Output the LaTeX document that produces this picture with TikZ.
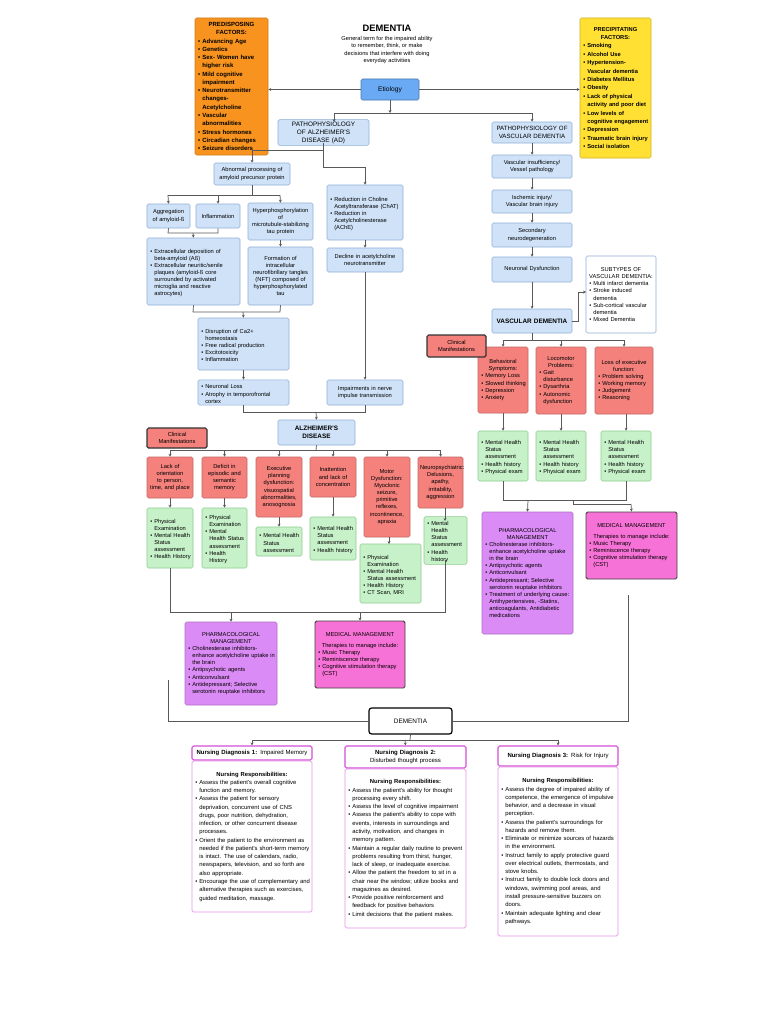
\documentclass[tikz,border=0pt]{standalone}
\usepackage{fontspec}
\setmainfont{Liberation Sans}
\usepackage{enumitem}
\usetikzlibrary{arrows.meta}
\hyphenpenalty=10000 \exhyphenpenalty=10000
\definecolor{cor}{HTML}{F7931E}
\definecolor{cyl}{HTML}{FFE033}
\definecolor{cbl}{HTML}{CFE2F8}
\definecolor{cbb}{HTML}{8FAFD6}
\definecolor{crd}{HTML}{F4817C}
\definecolor{cgr}{HTML}{C7F2C9}
\definecolor{cgb}{HTML}{8CCB8E}
\definecolor{cpu}{HTML}{DB8BF5}
\definecolor{cpk}{HTML}{F772D6}
\definecolor{cnb}{HTML}{D64FD6}
\definecolor{cet}{HTML}{6AAAF5}
\newcommand\its[1]{\begin{itemize}[leftmargin=4pt,label=•,nosep,labelsep=1.5pt]#1\end{itemize}}
\newcommand\hd[1]{{\centering #1\par}}
\newcommand\bx[7]{\pgfmathsetmacro\bw{(#4-#2)*0.75}\pgfmathsetmacro\bh{(#5-#3)*0.75}\pgfmathsetmacro\tw{\bw-3}%
\node[#6, minimum width=\bw pt, minimum height=\bh pt, text width=\tw pt] (#1) at ({(#2+#4)/2},{(#3+#5)/2}) {#7};}
\tikzset{
 base/.style={draw, rounded corners=1.2pt, inner sep=1.5pt, align=center, font=\fontsize{4.3}{5.3}\selectfont},
 blu/.style={base, fill=cbl, draw=cbb},
 red/.style={base, fill=crd, draw=crd!80!black},
 grn/.style={base, fill=cgr, draw=cgb, align=left},
 ln/.style={draw=black!65, line width=0.55pt},
 ar/.style={ln, -{Stealth[length=2.2pt,width=2.2pt]}},
}
\begin{document}
\hyphenpenalty=10000 \exhyphenpenalty=10000
\begin{tikzpicture}[x=0.75pt,y=-0.75pt]
\useasboundingbox[fill=white] (0,0) rectangle (768,1024);
% top
\bx{pre}{195}{18}{268}{155}{base, fill=cor, draw=cor!85!black, align=left, font=\fontsize{4.5}{6.2}\selectfont\bfseries}{\hd{PREDISPOSING\\FACTORS:}\its{\item Advancing Age \item Genetics \item Sex- Women have higher risk \item Mild cognitive impairment \item Neurotransmitter changes- Acetylcholine \item Vascular abnormalities \item Stress hormones \item Circadian changes \item Seizure disorders}}
\bx{prc}{580}{18}{651}{158}{base, fill=cyl, draw=cyl!80!black, align=left, font=\fontsize{4.3}{6.3}\selectfont\bfseries}{\hd{PRECIPITATING\\FACTORS:}\its{\item Smoking \item Alcohol Use \item Hypertension- Vascular dementia \item Diabetes Mellitus \item Obesity \item Lack of physical activity and poor diet \item Low levels of cognitive engagement \item Depression \item Traumatic brain injury \item Social isolation}}
\node[font=\fontsize{7}{8}\selectfont\bfseries] (ttl) at (387,28) {DEMENTIA};
\node[font=\fontsize{4.3}{5.6}\selectfont, align=center] (sub) at (387,50) {General term for the impaired ability\\to remember, think, or make\\decisions that interfere with doing\\everyday activities};
\bx{eti}{361}{79}{419}{100}{base, fill=cet, draw=cet!70!black, font=\fontsize{5}{6}\selectfont}{Etiology}
\draw[ar] (eti.west) -- (eti.west -| pre.east);
\draw[ar] (eti.east) -- (eti.east -| prc.west);
% AD pathophysiology
\bx{adp}{278}{122}{369}{143}{blu, font=\fontsize{4.8}{6}\selectfont}{PATHOPHYSIOLOGY OF ALZHEIMER'S DISEASE (AD)}
\bx{vdp}{492}{122}{572}{143}{blu, font=\fontsize{4.6}{6}\selectfont}{PATHOPHYSIOLOGY OF VASCULAR DEMENTIA}
\coordinate (e1) at (390,113);
\draw[ar] (eti.south -| e1) -- (e1);
\draw[ln] (e1) -- (334,113);
\draw[ar] (334,113) -- (334,122);
\draw[ln] (e1) -- (532,113);
\draw[ar] (532,113) -- (vdp.north);
\bx{abn}{214}{163}{290}{185}{blu}{Abnormal processing of amyloid precursor protein}
\bx{rch}{327}{185}{403}{240}{blu, align=left}{\its{\item Reduction in Choline Acetyltransferase (ChAT) \item Reduction in Acetylcholinesterase (AChE)}}
\draw[ln] (323,143) -- (323,150) -- (252,150); \draw[ar] (252,150) -- (abn.north);
\draw[ln] (323,150) -- (323,167) -- (365,167); \draw[ar] (365,167) -- (rch.north);
\bx{agg}{147}{204}{190}{228}{blu}{Aggregation of amyloid-ß}
\bx{inf}{196}{204}{240}{228}{blu}{Inflammation}
\bx{hyp}{248}{203}{313}{240}{blu}{Hyperphosphorylation of microtubule-stabilizing tau protein}
\draw[ln] (abn.south) -- (252,195); \draw[ln] (168,195) -- (280,195);
\draw[ar] (168,195) -- (agg.north); \draw[ar] (218,195) -- (inf.north); \draw[ar] (280,195) -- (hyp.north);
\bx{ext}{147}{238}{240}{305}{blu, align=left}{\its{\item Extracellular deposition of beta-amyloid (Aß) \item Extracellular neuritic/senile plaques (amyloid-ß core surrounded by activated microglia and reactive astrocytes)}}
\bx{frm}{248}{247}{313}{305}{blu}{Formation of intracellular neurofibrillary tangles (NFT) composed of hyperphosphorylated tau}
\draw[ln] (agg.south) -- (168,233) -- (218,233) -- (inf.south); \draw[ar] (193,233) -- (ext.north);
\draw[ar] (hyp.south) -- (frm.north);
\bx{dis}{198}{318}{289}{370}{blu, align=left}{\its{\item Disruption of Ca2+ homeostasis \item Free radical production \item Excitotoxicity \item Inflammation}}
\draw[ln] (ext.south) -- (193,312) -- (280,312) -- (frm.south); \draw[ar] (243,312) -- (dis.north);
\bx{nl}{198}{380}{289}{405}{blu, align=left}{\its{\item Neuronal Loss \item Atrophy in temporofrontal cortex}}
\bx{dec}{327}{248}{403}{272}{blu}{Decline in acetylcholine neurotransmitter}
\bx{imp}{327}{380}{403}{405}{blu}{Impairments in nerve impulse transmission}
\draw[ar] (dis.south) -- (nl.north);
\draw[ar] (rch.south) -- (dec.north);
\draw[ar] (dec.south) -- (imp.north);
\bx{ad}{278}{420}{355}{445}{blu, font=\fontsize{4.8}{6}\selectfont\bfseries}{ALZHEIMER'S DISEASE}
\draw[ln] (243,405) -- (243,412) -- (365,412) -- (imp.south); \draw[ar] (316,412) -- (ad.north);
\bx{cma}{147}{428}{207}{448}{base, fill=crd, draw=black!80, line width=0.9pt}{Clinical Manifestations}
% AD manifestations
\bx{r1}{147}{457}{193}{498}{red}{Lack of orientation to person, time, and place}
\bx{r2}{202}{457}{247}{498}{red}{Deficit in episodic and semantic memory}
\bx{r3}{256}{457}{302}{517}{red}{Executive planning dysfunction: visuospatial abnormalities, anosognosia}
\bx{r4}{310}{457}{356}{497}{red}{Inattention and lack of concentration}
\bx{r5}{364}{457}{410}{537}{red}{Motor Dysfunction: Myoclonic seizure, primitive reflexes, incontinence, apraxia}
\bx{r6}{418}{457}{463}{508}{red}{Neuropsychiatric: Delusions, apathy, irritability, aggression}
\draw[ln] (ad.south) -- (316,450); \draw[ln] (170,450) -- (440,450);
\foreach \n in {r1,r2,r3,r4,r5,r6} {\draw[ar] (\n.north |- 0,450) -- (\n.north);}
\bx{g1}{147}{508}{193}{568}{grn}{\its{\item Physical Examination \item Mental Health Status assessment \item Health History}}
\bx{g2}{202}{508}{247}{568}{grn}{\its{\item Physical Examination \item Mental Health Status assessment \item Health History}}
\bx{g3}{256}{527}{302}{556}{grn}{\its{\item Mental Health Status assessment}}
\bx{g4}{310}{517}{356}{560}{grn}{\its{\item Mental Health Status assessment \item Health history}}
\bx{g5}{360}{544}{421}{603}{grn}{\its{\item Physical Examination \item Mental Health Status assessment \item Health History \item CT Scan, MRI}}
\bx{g6}{424}{521}{467}{560}{grn}{\its{\item Mental Health Status assessment \item Health history}}
\draw[ar] (r1.south) -- (g1.north); \draw[ar] (r2.south) -- (g2.north); \draw[ar] (r3.south) -- (g3.north);
\draw[ar] (r4.south) -- (g4.north); \draw[ar] (r5.south -| 389,0) -- (389,544); \draw[ar] (r6.south -| 445,0) -- (445,521);
\bx{pha}{185}{622}{277}{705}{base, fill=cpu, draw=cpu!80!black, align=left}{\hd{PHARMACOLOGICAL\\MANAGEMENT}\its{\item Cholinesterase inhibitors- enhance acetylcholine uptake in the brain \item Antipsychotic agents \item Anticonvulsant \item Antidepressant; Selective serotonin reuptake inhibitors}}
\bx{mea}{315}{621}{405}{688}{base, fill=cpk, draw=black!75, line width=0.7pt, align=left}{\hd{MEDICAL MANAGEMENT}\vspace{3pt}\hd{Therapies to manage include:}\its{\item Music Therapy \item Reminiscence therapy \item Cognitive stimulation therapy (CST)}}
\draw[ln] (170,568) -- (170,612) -- (445,612) -- (445,560);
\draw[ar] (231,612) -- (pha.north); \draw[ar] (360,612) -- (mea.north);
% vascular
\bx{vi}{492}{155}{572}{178}{blu}{Vascular insufficiency/ Vessel pathology}
\bx{isc}{492}{190}{572}{213}{blu}{Ischemic injury/ Vascular brain injury}
\bx{sec}{492}{223}{572}{247}{blu}{Secondary neurodegeneration}
\bx{nd}{492}{257}{572}{282}{blu}{Neuronal Dysfunction}
\bx{vd}{492}{309}{572}{333}{blu, font=\fontsize{4.8}{6}\selectfont\bfseries}{VASCULAR DEMENTIA}
\bx{sty}{586}{256}{656}{333}{base, fill=white, draw=cbb, align=left}{\hd{SUBTYPES OF VASCULAR DEMENTIA:}\its{\item Multi infarct dementia \item Stroke induced dementia \item Sub-cortical vascular dementia \item Mixed Dementia}}
\draw[ar] (vdp.south) -- (vi.north); \draw[ar] (vi.south) -- (isc.north); \draw[ar] (isc.south) -- (sec.north);
\draw[ar] (sec.south) -- (nd.north); \draw[ar] (nd.south) -- (vd.north);
\draw[ar] (vd.east) -- (578,321) -- (578,292) -- (586,292);
\bx{v1}{478}{347}{528}{413}{red, align=left}{\hd{Behavioral Symptoms:}\its{\item Memory Loss \item Slowed thinking \item Depression \item Anxiety}}
\bx{v2}{536}{347}{586}{414}{red, align=left}{\hd{Locomotor Problems:}\its{\item Gait disturbance \item Dysarthria \item Autonomic dysfunction}}
\bx{v3}{595}{347}{653}{414}{red, align=left}{\hd{Loss of executive function:}\its{\item Problem solving \item Working memory \item Judgement \item Reasoning}}
\bx{cmv}{427}{335}{486}{357}{base, fill=crd, draw=black!80, line width=0.9pt}{Clinical Manifestations}
\draw[ln] (vd.south) -- (532,340); \draw[ln] (503,340) -- (624,340);
\draw[ar] (503,340) -- (v1.north); \draw[ar] (561,340) -- (v2.north); \draw[ar] (624,340) -- (v3.north);
\bx{w1}{478}{431}{528}{481}{grn}{\its{\item Mental Health Status assessment \item Health history \item Physical exam}}
\bx{w2}{536}{431}{586}{481}{grn}{\its{\item Mental Health Status assessment \item Health history \item Physical exam}}
\bx{w3}{601}{431}{651}{481}{grn}{\its{\item Mental Health Status assessment \item Health history \item Physical exam}}
\draw[ar] (v1.south) -- (w1.north); \draw[ar] (v2.south) -- (w2.north); \draw[ar] (626,414) -- (w3.north);
\bx{phv}{482}{512}{573}{634}{base, fill=cpu, draw=cpu!80!black, align=left}{\hd{PHARMACOLOGICAL\\MANAGEMENT}\its{\item Cholinesterase inhibitors- enhance acetylcholine uptake in the brain \item Antipsychotic agents \item Anticonvulsant \item Antidepressant; Selective serotonin reuptake inhibitors \item Treatment of underlying cause: Antihypertensives, -Statins, anticoagulants, Antidiabetic medications}}
\bx{mev}{586}{512}{677}{579}{base, fill=cpk, draw=black!75, line width=0.7pt, align=left}{\hd{MEDICAL MANAGEMENT}\vspace{3pt}\hd{Therapies to manage include:}\its{\item Music Therapy \item Reminiscence therapy \item Cognitive stimulation therapy (CST)}}
\draw[ln] (w1.south) -- (503,500) -- (626,500) -- (w3.south);
\draw[ar] (528,500) -- (phv.north);
\draw[ln] (573,500) -- (573,504) -- (631,504); \draw[ar] (631,504) -- (mev.north);
% bottom
\bx{dem}{369}{708}{452}{734}{base, fill=white, draw=black, line width=0.9pt, rounded corners=2pt, font=\fontsize{4.8}{6}\selectfont}{DEMENTIA}
\draw[ln] (168,680) |- (dem.west);
\draw[ln] (dem.east) -| (628,595);
\draw[ln] (dem.south) -- (410,740); \draw[ln] (252,740) -- (558,740);
\tikzset{ndh/.style={base, fill=white, draw=cnb, line width=0.8pt, font=\fontsize{4.5}{5.5}\selectfont},
 ndb/.style={base, fill=white, draw=cnb!60, line width=0.6pt, align=left, font=\fontsize{4.4}{6.2}\selectfont}}
\bx{h1}{192}{746}{312}{760}{ndh}{\textbf{Nursing Diagnosis 1:} Impaired Memory}
\bx{b1}{192}{761}{312}{912}{ndb}{\hd{\textbf{Nursing Responsibilities:}}\its{\item Assess the patient's overall cognitive function and memory. \item Assess the patient for sensory deprivation, concurrent use of CNS drugs, poor nutrition, dehydration, infection, or other concurrent disease processes. \item Orient the patient to the environment as needed if the patient's short-term memory is intact. The use of calendars, radio, newspapers, television, and so forth are also appropriate. \item Encourage the use of complementary and alternative therapies such as exercises, guided meditation, massage.}}
\bx{h2}{345}{746}{466}{768}{ndh}{\textbf{Nursing Diagnosis 2:} Disturbed thought process}
\bx{b2}{345}{769}{466}{928}{ndb}{\hd{\textbf{Nursing Responsibilities:}}\its{\item Assess the patient's ability for thought processing every shift. \item Assess the level of cognitive impairment \item Assess the patient's ability to cope with events, interests in surroundings and activity, motivation, and changes in memory pattern. \item Maintain a regular daily routine to prevent problems resulting from thirst, hunger, lack of sleep, or inadequate exercise. \item Allow the patient the freedom to sit in a chair near the window; utilize books and magazines as desired. \item Provide positive reinforcement and feedback for positive behaviors \item Limit decisions that the patient makes.}}
\bx{h3}{498}{746}{618}{766}{ndh}{\textbf{Nursing Diagnosis 3:} Risk for Injury}
\bx{b3}{498}{767}{618}{936}{ndb}{\hd{\textbf{Nursing Responsibilities:}}\its{\item Assess the degree of impaired ability of competence, the emergence of impulsive behavior, and a decrease in visual perception. \item Assess the patient's surroundings for hazards and remove them. \item Eliminate or minimize sources of hazards in the environment. \item Instruct family to apply protective guard over electrical outlets, thermostats, and stove knobs. \item Instruct family to double lock doors and windows, swimming pool areas, and install pressure-sensitive buzzers on doors. \item Maintain adequate lighting and clear pathways.}}
\draw[ar] (252,740) -- (h1.north); \draw[ar] (405,740) -- (h2.north); \draw[ar] (558,740) -- (h3.north);
\end{tikzpicture}
\end{document}
